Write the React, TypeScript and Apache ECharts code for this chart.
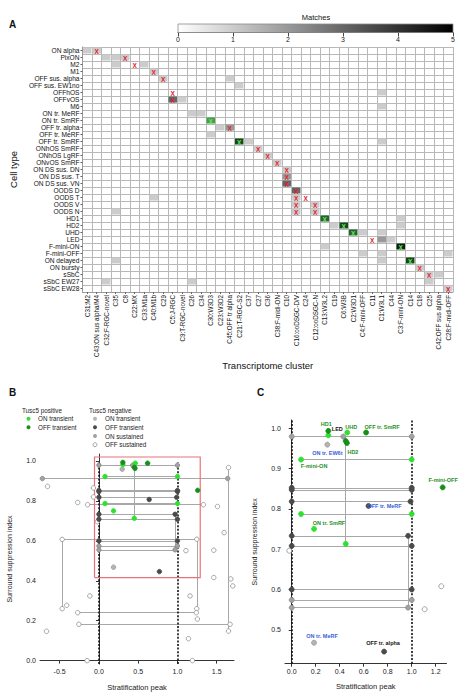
import React, { useEffect, useRef } from 'react';
import * as echarts from 'echarts';

const FONT = 'Liberation Sans, Arial, Helvetica, sans-serif';

// ---------- Panel A: cell type x transcriptome cluster matches ----------
const cellTypes = [
  'ON alpha', 'PixON', 'M2', 'M1', 'OFF sus. alpha', 'OFF sus. EW1no', 'OFFhOS', 'OFFvOS', 'M6',
  'ON tr. MeRF', 'ON tr. SmRF', 'OFF tr. alpha', 'OFF tr. MeRF', 'OFF tr. SmRF', 'ONhOS SmRF',
  'ONhOS LgRF', 'ONvOS SmRF', 'ON DS sus. DN', 'ON DS sus. T', 'ON DS sus. VN', 'OODS D', 'OODS T',
  'OODS V', 'OODS N', 'HD1', 'HD2', 'UHD', 'LED', 'F-mini-ON', 'F-mini-OFF', 'ON delayed',
  'ON bursty', 'sSbC', 'sSbC EW27', 'sSbC EW28',
];

const clusters = [
  'C31:M2', 'C43:ON sus alpha/M4', 'C32:F-RGC-novel', 'C35', 'C8', 'C22:MX', 'C33:M1a', 'C40:M1b',
  'C29', 'C5:J-RGC', 'C9:T-RGC-novel', 'C26', 'C34', 'C30:W3D3', 'C23:W3D2', 'C45:OFF tr alpha',
  'C21:T-RGC-S2', 'C37', 'C27', 'C36', 'C38:F-midi-ON', 'C10', 'C16:ooDSGC-D/V', 'C24',
  'C12:ooDSGC-N', 'C13:W3L2', 'C19', 'C6:W3B', 'C2:W3D1', 'C4:F-mini-OFF', 'C11', 'C1:W3L1', 'C44',
  'C3:F-mini-ON', 'C14', 'C18', 'C25', 'C42:OFF sus alpha', 'C28:F-midi-OFF',
];

// [row (cell type), column (cluster), number of matches]
const matchCells: [number, number, number][] = [
  [0, 0, 1], [0, 1, 1],
  [1, 2, 1], [1, 3, 1], [1, 4, 1],
  [2, 3, 1], [2, 6, 1],
  [3, 7, 1],
  [4, 8, 1], [4, 15, 1],
  [5, 16, 1],
  [6, 31, 1],
  [7, 9, 3], [7, 10, 1],
  [8, 31, 1],
  [9, 11, 1], [9, 12, 1],
  [10, 13, 2],
  [11, 14, 1], [11, 15, 2],
  [12, 13, 1],
  [13, 16, 4], [13, 17, 1], [13, 31, 1],
  [14, 18, 1], [15, 19, 1], [16, 20, 1],
  [17, 21, 1], [18, 21, 2], [19, 21, 3],
  [20, 22, 3],
  [21, 7, 1], [21, 22, 1],
  [22, 22, 1], [22, 24, 1],
  [23, 3, 1], [23, 22, 1], [23, 24, 1],
  [24, 25, 3], [24, 33, 1],
  [25, 26, 1], [25, 27, 4], [25, 33, 1],
  [26, 28, 3], [26, 29, 1], [26, 31, 1],
  [27, 31, 2], [27, 32, 1],
  [28, 25, 1], [28, 33, 5],
  [29, 29, 1], [29, 31, 1], [29, 38, 1],
  [30, 3, 1], [30, 31, 1], [30, 34, 4],
  [31, 35, 1],
  [32, 36, 1], [32, 37, 1],
  [33, 2, 1], [33, 11, 1], [33, 36, 1],
  [34, 38, 1],
];

// [row, column] of expected assignments
const redMarks: [number, number][] = [
  [0, 1], [1, 4], [2, 5], [3, 7], [4, 8], [6, 9], [7, 9], [11, 15], [14, 18], [15, 19], [16, 20],
  [17, 21], [18, 21], [19, 21], [20, 22], [21, 22], [21, 23], [22, 22], [22, 24], [23, 22],
  [23, 24], [27, 30], [31, 35], [32, 36], [34, 38],
];
const greenMarks: [number, number][] = [
  [10, 13], [13, 16], [24, 25], [25, 27], [26, 28], [28, 33], [30, 34],
];

const colorbarTicks = [0, 1, 2, 3, 4, 5];

// ---------- Panels B/C: [stratification peak, surround suppression index] ----------
const posOnTransient: [number, number][] = [
  [0.305, 0.982], [0.463, 0.989], [0.078, 0.922], [1.0, 0.922], [0.078, 0.787], [1.0, 0.787],
  [0.186, 0.75], [0.45, 0.713],
];
const posOffTransient: [number, number][] = [
  [0.305, 0.993], [0.45, 0.968], [0.46, 0.963], [0.62, 0.989], [1.258, 0.853],
];
const negOnTransient: [number, number][] = [[0.297, 0.959], [0.186, 0.468]];
const negOffTransient: [number, number][] = [
  [0, 0.852], [1, 0.852], [0, 0.847], [1, 0.847], [0, 0.818], [0.99, 0.818], [0.64, 0.807],
  [0, 0.733], [0.97, 0.733], [0, 0.708], [1, 0.708], [0, 0.6], [1, 0.6], [0.77, 0.446],
];
const negOnSustained: [number, number][] = [
  [0, 0.979], [1, 0.979], [0.43, 0.979], [-0.72, 0.912], [1.64, 0.912], [0, 0.574], [1, 0.574],
  [0, 0.555], [0.97, 0.555],
];
const negOffSustained: [number, number][] = [
  [1.65, 0.967], [-0.654, 0.873], [-0.07, 0.865], [-0.07, 0.82], [-0.27, 0.792], [-0.144, 0.781],
  [1.33, 0.781], [1.51, 0.772], [-0.02, 0.696], [1.594, 0.641], [-0.468, 0.607], [1.247, 0.608],
  [1.108, 0.551], [1.463, 0.553], [1.463, 0.416], [1.68, 0.409], [1.705, 0.374], [-0.115, 0.324],
  [1.16, 0.324], [-0.41, 0.277], [-0.468, 0.26], [1.246, 0.26], [-0.27, 0.24], [1.24, 0.24],
  [1.254, 0.208], [-0.255, 0.182], [1.67, 0.182], [-0.667, 0.147], [1.65, 0.148], [1.14, 0.11],
  [-0.15, 0.0], [1.19, 0.0],
];

// segments joining the peaks of bistratified cells [x1, y1, x2, y2]
const links: [number, number, number, number][] = [
  [0, 0.979, 1, 0.979], [0.078, 0.922, 1, 0.922], [-0.72, 0.912, 1.64, 0.912],
  [0, 0.852, 1, 0.852], [0, 0.847, 1, 0.847], [0, 0.818, 0.99, 0.818],
  [-0.144, 0.781, 1.33, 0.781], [0.078, 0.787, 1, 0.787], [0, 0.733, 0.97, 0.733],
  [0, 0.708, 1, 0.708], [0, 0.6, 1, 0.6], [0, 0.574, 1, 0.574], [0, 0.555, 0.97, 0.555],
  [0.45, 0.979, 0.45, 0.713], [0.97, 0.733, 0.97, 0.555], [-0.468, 0.607, 1.247, 0.607],
  [-0.468, 0.607, -0.468, 0.26], [1.246, 0.607, 1.246, 0.26], [-0.27, 0.24, 1.24, 0.24],
  [-0.255, 0.182, 1.67, 0.182], [1.65, 0.967, 1.65, 0.148],
];

const labeledCells: [string, number, number][] = [
  ['HD1', 0.305, 0.993], ['LED', 0.43, 0.979], ['UHD', 0.463, 0.989], ['OFF tr. SmRF', 0.62, 0.989],
  ['ON tr. EW6t', 0.297, 0.959], ['HD2', 0.46, 0.963], ['F-mini-ON', 0.078, 0.922],
  ['F-mini-OFF', 1.258, 0.853], ['OFF tr. MeRF', 0.64, 0.807], ['ON tr. SmRF', 0.186, 0.75],
  ['ON tr. MeRF', 0.186, 0.468], ['OFF tr. alpha', 0.77, 0.446],
];

// enlarged window of panel C (also outlined in panel B)
const zoomX: [number, number] = [-0.056, 1.29];
const zoomY: [number, number] = [0.416, 1.02];

const bXTicks = [-0.5, 0, 0.5, 1, 1.5];
const bYTicks = [0, 0.2, 0.4, 0.6, 0.8, 1.0];
const cXTicks = [0, 0.2, 0.4, 0.6, 0.8, 1.0, 1.2];
const cYTicks = [0.5, 0.6, 0.7, 0.8, 0.9, 1.0];

const GREEN_TXT = '#1f8f1f';
const BLUE_TXT = '#3a5fd8';
const labelPlacement: Record<string, { dx: number; dy: number; color: string }> = {
  'HD1': { dx: -2, dy: -6.5, color: GREEN_TXT },
  'LED': { dx: -6, dy: -7.5, color: '#111' },
  'UHD': { dx: 4, dy: -6, color: GREEN_TXT },
  'OFF tr. SmRF': { dx: 16, dy: -5.5, color: GREEN_TXT },
  'ON tr. EW6t': { dx: 0, dy: 8, color: BLUE_TXT },
  'HD2': { dx: 6, dy: 9.5, color: GREEN_TXT },
  'F-mini-ON': { dx: 13, dy: 6, color: GREEN_TXT },
  'F-mini-OFF': { dx: 0.5, dy: -7, color: GREEN_TXT },
  'OFF tr. MeRF': { dx: 16, dy: 0, color: BLUE_TXT },
  'ON tr. SmRF': { dx: 15, dy: -6, color: GREEN_TXT },
  'ON tr. MeRF': { dx: 8, dy: -7, color: BLUE_TXT },
  'OFF tr. alpha': { dx: -1, dy: -8.5, color: '#111' },
};

const GREEN_CELL: Record<number, string> = { 1: '#5aaa5a', 2: '#45a045', 3: '#23662a', 4: '#134a16', 5: '#072607' };

function grayFor(v: number) {
  const c = Math.round(255 * (1 - v / 5));
  return `rgb(${c},${c},${c})`;
}

const groups = [
  { name: 'OFF sustained', data: negOffSustained, color: '#ffffff', border: '#8f8f8f' },
  { name: 'ON sustained', data: negOnSustained, color: '#a2a2a2', border: '#8a8a8a' },
  { name: 'ON transient neg', data: negOnTransient, color: '#b4b4b4', border: '#999' },
  { name: 'OFF transient neg', data: negOffTransient, color: '#4a4a4a', border: '#4a4a4a' },
  { name: 'ON transient pos', data: posOnTransient, color: '#2fe02f', border: '#2fe02f' },
  { name: 'OFF transient pos', data: posOffTransient, color: '#178f1a', border: '#178f1a' },
];

function inZoom(p: [number, number]) {
  return p[0] >= zoomX[0] && p[0] <= zoomX[1] && p[1] >= zoomY[0] && p[1] <= zoomY[1];
}

function buildOption() {
  const greenSet = new Set(greenMarks.map(([r, c]) => `${r}-${c}`));

  const axisText = { fontSize: 7, color: '#222', fontFamily: FONT };
  const axisLineStyle = { lineStyle: { color: '#333', width: 1 } };

  const scatterSeries = (xi: number, filterZoom: boolean, size: number) =>
    groups.map((g) => ({
      type: 'scatter',
      name: g.name,
      xAxisIndex: xi,
      yAxisIndex: xi,
      symbol: 'circle',
      symbolSize: size,
      data: filterZoom ? g.data.filter(inZoom) : g.data,
      itemStyle: { color: g.color, borderColor: g.border, borderWidth: 0.8, opacity: 1 },
      z: 5,
    }));

  const linkSeries = (xi: number, filterZoom: boolean) => ({
    type: 'lines',
    coordinateSystem: 'cartesian2d',
    xAxisIndex: xi,
    yAxisIndex: xi,
    data: links
      .filter((s) => !filterZoom || (inZoom([s[0], s[1]]) && inZoom([s[2], s[3]])))
      .map((s) => ({ coords: [[s[0], s[1]], [s[2], s[3]]] })),
    lineStyle: { color: '#a8a8a8', width: 1, opacity: 1 },
    z: 2,
  });

  const dashedSeries = (xi: number, y0: number, y1: number) => ({
    type: 'lines',
    coordinateSystem: 'cartesian2d',
    xAxisIndex: xi,
    yAxisIndex: xi,
    data: [0, 1].map((x) => ({ coords: [[x, y0], [x, y1]] })),
    lineStyle: { color: '#111', width: 1.6, type: [2, 1.6], opacity: 1 },
    z: 3,
  });

  return {
    animation: false,
    backgroundColor: '#ffffff',
    textStyle: { fontFamily: FONT },
    grid: [
      { left: 178, top: 24, width: 275, height: 8.5 },
      { left: 78, top: 47, width: 375, height: 245 },
      { left: 40, top: 454, width: 194, height: 210 },
      { left: 285, top: 420, width: 161.5, height: 243.7 },
    ],
    xAxis: [
      {
        gridIndex: 0, type: 'value', min: 0, max: 5, interval: 1,
        axisLine: { show: true, lineStyle: { color: '#444', width: 1 } },
        axisTick: { show: true, length: 4, lineStyle: { color: '#444' } },
        axisLabel: { ...axisText, margin: 3, customValues: colorbarTicks },
        splitLine: { show: false },
      },
      {
        gridIndex: 1, type: 'category', data: clusters,
        axisLine: { show: true, lineStyle: { color: '#9a9a9a' } },
        axisTick: { show: true, alignWithLabel: true, length: 2, interval: 0, lineStyle: { color: '#666' } },
        axisLabel: { fontSize: 6.3, color: '#111', rotate: 90, interval: 0, margin: 3, fontFamily: FONT },
        splitLine: { show: true, interval: 0, lineStyle: { color: '#b8b8b8', width: 1 } },
        name: 'Transcriptome cluster', nameLocation: 'middle', nameGap: 64,
        nameTextStyle: { fontSize: 9.5, color: '#111' },
      },
      {
        gridIndex: 2, type: 'value', min: -0.75, max: 1.72,
        axisLine: { show: true, ...axisLineStyle },
        axisTick: { show: true, length: 3, customValues: bXTicks, lineStyle: { color: '#333' } },
        axisLabel: { ...axisText, margin: 4, customValues: bXTicks, formatter: (v: number) => v.toFixed(1) },
        splitLine: { show: false },
        name: 'Stratification peak', nameLocation: 'middle', nameGap: 19,
        nameTextStyle: { fontSize: 7.5, color: '#222' },
      },
      {
        gridIndex: 3, type: 'value', min: zoomX[0], max: zoomX[1],
        axisLine: { show: true, ...axisLineStyle },
        axisTick: { show: true, length: 3, customValues: cXTicks, lineStyle: { color: '#333' } },
        axisLabel: { ...axisText, margin: 4, customValues: cXTicks, formatter: (v: number) => v.toFixed(1) },
        splitLine: { show: false },
        name: 'Stratification peak', nameLocation: 'middle', nameGap: 19,
        nameTextStyle: { fontSize: 7.5, color: '#222' },
      },
    ],
    yAxis: [
      { gridIndex: 0, type: 'value', min: 0, max: 1, show: false },
      {
        gridIndex: 1, type: 'category', data: cellTypes, inverse: true,
        axisLine: { show: true, lineStyle: { color: '#9a9a9a' } },
        axisTick: { show: true, alignWithLabel: true, length: 2, interval: 0, lineStyle: { color: '#666' } },
        axisLabel: { fontSize: 6.6, lineHeight: 7, color: '#111', interval: 0, margin: 3, fontFamily: FONT },
        splitLine: { show: true, interval: 0, lineStyle: { color: '#b8b8b8', width: 1 } },
        name: 'Cell type', nameLocation: 'middle', nameGap: 63,
        nameTextStyle: { fontSize: 9.5, color: '#111' },
      },
      {
        gridIndex: 2, type: 'value', min: -0.017, max: 1.035,
        axisLine: { show: true, ...axisLineStyle },
        axisTick: { show: true, length: 3, customValues: bYTicks, lineStyle: { color: '#333' } },
        axisLabel: { ...axisText, margin: 4, customValues: bYTicks, formatter: (v: number) => v.toFixed(1) },
        splitLine: { show: false },
        name: 'Surround suppression index', nameLocation: 'middle', nameGap: 27,
        nameTextStyle: { fontSize: 7, color: '#222' },
      },
      {
        gridIndex: 3, type: 'value', min: zoomY[0], max: zoomY[1],
        axisLine: { show: true, ...axisLineStyle },
        axisTick: { show: true, length: 3, customValues: cYTicks, lineStyle: { color: '#333' } },
        axisLabel: { ...axisText, margin: 4, customValues: cYTicks, formatter: (v: number) => v.toFixed(1) },
        splitLine: { show: false },
        name: 'Surround suppression index', nameLocation: 'middle', nameGap: 27,
        nameTextStyle: { fontSize: 7, color: '#222' },
      },
    ],
    series: [
      // heatmap cells
      {
        type: 'custom',
        xAxisIndex: 1,
        yAxisIndex: 1,
        data: matchCells.map(([r, c, v]) => [c, r, v, greenSet.has(`${r}-${c}`) ? 1 : 0]),
        encode: { x: 0, y: 1 },
        renderItem: (params: any, api: any) => {
          const p = api.coord([api.value(0), api.value(1)]);
          const s = api.size([1, 1]);
          const v = api.value(2);
          const isGreen = api.value(3) === 1;
          const fill = isGreen ? GREEN_CELL[Math.round(v)] || '#23662a' : grayFor(v);
          return {
            type: 'rect',
            shape: { x: p[0] - s[0] / 2 + 0.5, y: p[1] - s[1] / 2 + 0.5, width: s[0] - 1, height: s[1] - 1 },
            style: { fill },
          };
        },
        z: 2,
      },
      // assignment marks
      ...[
        { marks: redMarks, color: '#e5202a' },
        { marks: greenMarks, color: '#6fe06f' },
      ].map((m) => ({
        type: 'custom',
        xAxisIndex: 1,
        yAxisIndex: 1,
        data: m.marks.map(([r, c]) => [c, r]),
        encode: { x: 0, y: 1 },
        renderItem: (params: any, api: any) => {
          const p = api.coord([api.value(0), api.value(1)]);
          return {
            type: 'text',
            x: p[0],
            y: p[1] + 0.5,
            style: {
              text: 'X', fill: m.color, fontSize: 6.5, lineHeight: 6.5, fontWeight: 'bold', fontFamily: FONT,
              align: 'center', verticalAlign: 'middle',
            },
          };
        },
        z: 3,
      })),
      // panel B
      linkSeries(2, false),
      dashedSeries(2, -0.017, 0.995),
      {
        type: 'lines',
        coordinateSystem: 'cartesian2d',
        xAxisIndex: 2,
        yAxisIndex: 2,
        polyline: true,
        data: [{
          coords: [[zoomX[0], zoomY[0]], [zoomX[1], zoomY[0]], [zoomX[1], zoomY[1]], [zoomX[0], zoomY[1]], [zoomX[0], zoomY[0]]],
        }],
        lineStyle: { color: '#e8707a', width: 1.2, opacity: 1 },
        z: 4,
      },
      ...scatterSeries(2, false, 4.5),
      // panel C
      linkSeries(3, true),
      dashedSeries(3, zoomY[0], zoomY[1]),
      ...scatterSeries(3, true, 5),
      {
        type: 'custom',
        xAxisIndex: 3,
        yAxisIndex: 3,
        data: labeledCells.map(([, x, y]) => [x, y]),
        encode: { x: 0, y: 1 },
        renderItem: (params: any, api: any) => {
          const name = labeledCells[params.dataIndex][0];
          const pl = labelPlacement[name];
          const p = api.coord([api.value(0), api.value(1)]);
          return {
            type: 'text',
            x: p[0] + pl.dx,
            y: p[1] + pl.dy,
            style: {
              text: name, fill: pl.color, fontSize: 5.5, fontWeight: 'bold', fontFamily: FONT,
              align: 'center', verticalAlign: 'middle',
            },
          };
        },
        z: 6,
      },
    ],
    graphic: [
      { type: 'text', left: 9, top: 19, style: { text: 'A', fontSize: 10, fontWeight: 'bold', fill: '#111', fontFamily: FONT } },
      { type: 'text', left: 9, top: 387, style: { text: 'B', fontSize: 10, fontWeight: 'bold', fill: '#111', fontFamily: FONT } },
      { type: 'text', left: 257, top: 387, style: { text: 'C', fontSize: 10, fontWeight: 'bold', fill: '#111', fontFamily: FONT } },
      {
        type: 'text', x: 316, y: 17,
        style: { text: 'Matches', fontSize: 7.5, fill: '#111', fontFamily: FONT, align: 'center', verticalAlign: 'middle' },
      },
      {
        type: 'rect',
        shape: { x: 178, y: 24, width: 275, height: 8.5 },
        style: {
          fill: new echarts.graphic.LinearGradient(0, 0, 1, 0, [
            { offset: 0, color: '#ffffff' },
            { offset: 1, color: '#000000' },
          ]),
          stroke: '#8a8a8a',
          lineWidth: 0.8,
        },
        z: 10,
      },
      // legend of panel B
      { type: 'text', x: 22, y: 410, style: { text: 'Tusc5 positive', fontSize: 6.3, fill: '#222', fontFamily: FONT, verticalAlign: 'middle' } },
      { type: 'circle', shape: { cx: 28.5, cy: 418.7, r: 2 }, style: { fill: '#2fe02f' } },
      { type: 'text', x: 38, y: 418.7, style: { text: 'ON transient', fontSize: 6.3, fill: '#222', fontFamily: FONT, verticalAlign: 'middle' } },
      { type: 'circle', shape: { cx: 28.5, cy: 427.3, r: 2 }, style: { fill: '#178f1a' } },
      { type: 'text', x: 38, y: 427.3, style: { text: 'OFF transient', fontSize: 6.3, fill: '#222', fontFamily: FONT, verticalAlign: 'middle' } },
      { type: 'text', x: 89, y: 410, style: { text: 'Tusc5 negative', fontSize: 6.3, fill: '#222', fontFamily: FONT, verticalAlign: 'middle' } },
      { type: 'circle', shape: { cx: 95, cy: 418.7, r: 2 }, style: { fill: '#b4b4b4' } },
      { type: 'text', x: 105, y: 418.7, style: { text: 'ON transient', fontSize: 6.3, fill: '#222', fontFamily: FONT, verticalAlign: 'middle' } },
      { type: 'circle', shape: { cx: 95, cy: 427.3, r: 2 }, style: { fill: '#4a4a4a' } },
      { type: 'text', x: 105, y: 427.3, style: { text: 'OFF transient', fontSize: 6.3, fill: '#222', fontFamily: FONT, verticalAlign: 'middle' } },
      { type: 'circle', shape: { cx: 95, cy: 436, r: 2 }, style: { fill: '#a2a2a2' } },
      { type: 'text', x: 105, y: 436, style: { text: 'ON sustained', fontSize: 6.3, fill: '#222', fontFamily: FONT, verticalAlign: 'middle' } },
      { type: 'circle', shape: { cx: 95, cy: 444.7, r: 2 }, style: { fill: '#ffffff', stroke: '#8f8f8f', lineWidth: 0.8 } },
      { type: 'text', x: 105, y: 444.7, style: { text: 'OFF sustained', fontSize: 6.3, fill: '#222', fontFamily: FONT, verticalAlign: 'middle' } },
    ],
  };
}

export default function App() {
  const ref = useRef<HTMLDivElement>(null);
  useEffect(() => {
    document.body.style.margin = '0';
    if (!ref.current) return;
    const chart = echarts.init(ref.current, undefined, { renderer: 'svg' });
    chart.setOption(buildOption() as any);
    return () => chart.dispose();
  }, []);
  return <div ref={ref} style={{ width: 474, height: 694 }} />;
}
